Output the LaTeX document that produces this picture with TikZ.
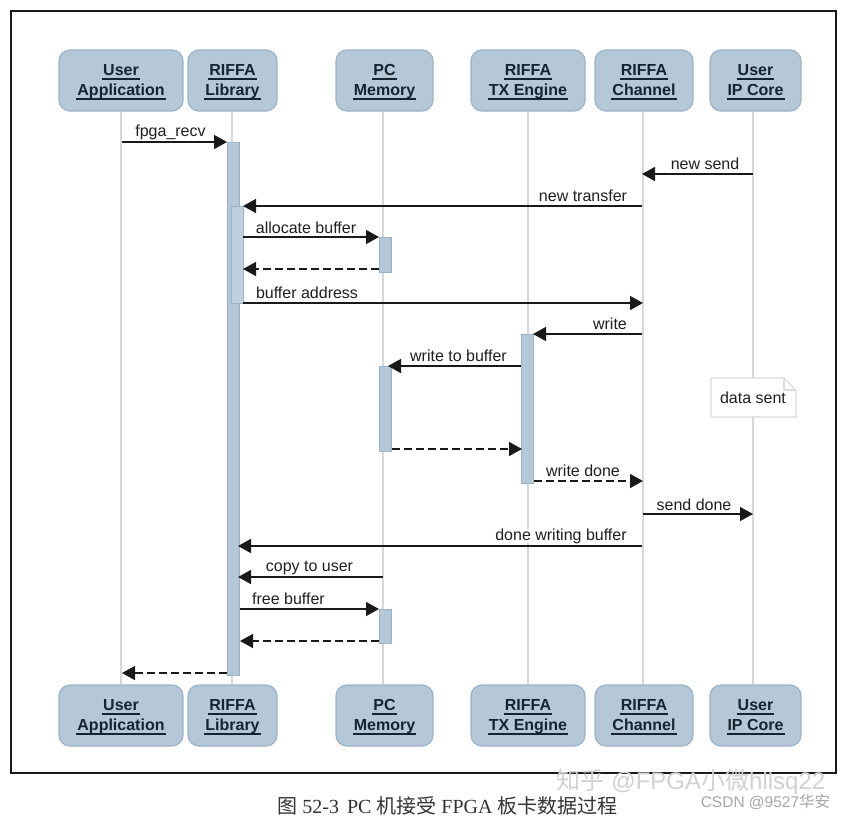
\documentclass[tikz,border=0pt]{standalone}
\usepackage{fontspec}
\setmainfont{Liberation Sans}
\newfontfamily\serifcap{Liberation Serif}
\newfontfamily\cjk{Noto Sans CJK SC}
\usetikzlibrary{arrows.meta}
\definecolor{boxfill}{HTML}{B4C8D8}
\definecolor{boxline}{HTML}{9DB2C6}
\definecolor{titleink}{HTML}{16242F}
\definecolor{lifeink}{HTML}{D6D8DA}
\definecolor{noteink}{HTML}{DADDDD}
\newcommand{\ulbar}[1]{\vtop{\hbox{\kern1pt\rule{0pt}{13.5pt}\smash{#1}\kern1pt}\kern3pt\hrule height 1.5pt}}
\tikzset{
  party/.style={draw=boxline,line width=1.2pt,fill=boxfill,rounded corners=11pt,minimum height=61pt,inner sep=0pt,
    text=titleink,align=center,font=\fontsize{16}{20}\selectfont\bfseries},
  actbar/.style={draw=boxline,line width=.8pt,fill=boxfill,minimum width=12pt,inner sep=0pt},
  lifeline/.style={draw=lifeink,line width=1.2pt},
  msg/.style={draw=black!90,line width=1.5pt,-{Triangle[length=13pt,width=14pt]}},
  reply/.style={msg,dash pattern=on 8pt off 4pt},
  msglabel/.style={inner sep=0pt,text=black!88,font=\fontsize{16}{18}\selectfont}
}
\begin{document}
\begin{tikzpicture}[x=1pt,y=-1pt]
  \useasboundingbox (0,0) rectangle (846,820);
  \fill[white] (0,0) rectangle (846,820);
  \draw[line width=2pt,draw=black!90] (11,11) rectangle (836,773);

  \node[party,minimum width=124pt] (userTop) at (121,80.5) {\ulbar{User}\\\ulbar{Application}};
  \node[party,minimum width=89pt] (libTop) at (232.5,80.5) {\ulbar{RIFFA}\\\ulbar{Library}};
  \node[party,minimum width=97pt] (memTop) at (384.5,80.5) {\ulbar{PC}\\\ulbar{Memory}};
  \node[party,minimum width=114pt] (txTop) at (528,80.5) {\ulbar{RIFFA}\\\ulbar{TX Engine}};
  \node[party,minimum width=98pt] (chanTop) at (644,80.5) {\ulbar{RIFFA}\\\ulbar{Channel}};
  \node[party,minimum width=91pt] (coreTop) at (755.5,80.5) {\ulbar{User}\\\ulbar{IP Core}};
  \node[party,minimum width=124pt] (userBot) at (121,715.5) {\ulbar{User}\\\ulbar{Application}};
  \node[party,minimum width=89pt] (libBot) at (232.5,715.5) {\ulbar{RIFFA}\\\ulbar{Library}};
  \node[party,minimum width=97pt] (memBot) at (384.5,715.5) {\ulbar{PC}\\\ulbar{Memory}};
  \node[party,minimum width=114pt] (txBot) at (528,715.5) {\ulbar{RIFFA}\\\ulbar{TX Engine}};
  \node[party,minimum width=98pt] (chanBot) at (644,715.5) {\ulbar{RIFFA}\\\ulbar{Channel}};
  \node[party,minimum width=91pt] (coreBot) at (755.5,715.5) {\ulbar{User}\\\ulbar{IP Core}};

  \begin{scope}[lifeline]
    \draw (userTop.south -| 121,0) to (userBot.north -| 121,0);
    \draw (libTop.south -| 232,0) to (libBot.north -| 232,0);
    \draw (memTop.south -| 383,0) to (memBot.north -| 383,0);
    \draw (txTop.south) to (txBot.north);
    \draw (chanTop.south -| 643,0) to (chanBot.north -| 643,0);
    \draw (coreTop.south -| 753,0) to (coreBot.north -| 753,0);
  \end{scope}

  \node[actbar,minimum height=533pt] (libBar) at (233.5,408.5) {};
  \node[actbar,minimum height=97pt,fill=boxfill!85!white] (libInner) at (237,254.5) {};
  \node[actbar,minimum height=35pt] (memBarA) at (385.5,254.5) {};
  \node[actbar,minimum height=149pt] (txBar) at (527.5,408.5) {};
  \node[actbar,minimum height=85pt] (memBarB) at (385.5,408.5) {};
  \node[actbar,minimum height=34pt] (memBarC) at (385.5,626) {};

  \draw[draw=noteink,line width=1.2pt,fill=white]
    (711,378) coordinate (noteNW) -- (784,378) coordinate (noteFold) -- (796,390) coordinate (noteEar)
    -- (796,417) -- (711,417) -- cycle;
  \draw[draw=noteink,line width=1.2pt] (noteFold) -- (784,390) -- (noteEar);
  \node[msglabel] (dataSent) at (753,397.5) {data sent};

  \draw
    (122,142) coordinate (recvA)
    (227,142) coordinate (recvB)
    (753,174) coordinate (sendA)
    (642,174) coordinate (sendB)
    (642,206) coordinate (transA)
    (243,206) coordinate (transB)
    (243,237) coordinate (allocA)
    (379,237) coordinate (allocB)
    (379,269) coordinate (allocC)
    (243,269) coordinate (allocD)
    (243,303) coordinate (addrA)
    (643,303) coordinate (addrB)
    (642,334) coordinate (writeA)
    (533,334) coordinate (writeB)
    (521,366) coordinate (bufA)
    (388,366) coordinate (bufB)
    (392,449) coordinate (bufC)
    (522,449) coordinate (bufD)
    (534,481) coordinate (doneA)
    (643,481) coordinate (doneB)
    (643,514) coordinate (sentA)
    (753,514) coordinate (sentB)
    (642,546) coordinate (finA)
    (238,546) coordinate (finB)
    (383,577) coordinate (copyA)
    (238,577) coordinate (copyB)
    (240,609) coordinate (freeA)
    (379,609) coordinate (freeB)
    (379,641) coordinate (freeC)
    (240,641) coordinate (freeD)
    (227,673) coordinate (backA)
    (122,673) coordinate (backB);

  \node[msglabel,fill=white] (finText) at (561,536) {done writing buffer};
  \begin{scope}[msg]
    \draw (recvA) to (recvB);
    \draw (sendA) to (sendB);
    \draw (transA) to (transB);
    \draw (allocA) to (allocB);
    \draw (addrA) to (addrB);
    \draw (writeA) to (writeB);
    \draw (bufA) to (bufB);
    \draw (sentA) to (sentB);
    \draw (finA) to (finB);
    \draw (copyA) to (copyB);
    \draw (freeA) to (freeB);
  \end{scope}
  \begin{scope}[reply]
    \draw (allocC) to (allocD);
    \draw (bufC) to (bufD);
    \draw (doneA) to (doneB);
    \draw (freeC) to (freeD);
    \draw (backA) to (backB);
  \end{scope}

  \node[msglabel] (recvText) at (170.5,132) {fpga\_recv};
  \node[msglabel] (sendText) at (705,164) {new send};
  \node[msglabel] (transText) at (583,196) {new transfer};
  \node[msglabel] (allocText) at (306,227.5) {allocate buffer};
  \node[msglabel] (addrText) at (307,292.5) {buffer address};
  \node[msglabel] (writeText) at (610,324) {write};
  \node[msglabel] (bufText) at (458.5,356) {write to buffer};
  \node[msglabel] (doneText) at (583,470.5) {write done};
  \node[msglabel] (sentText) at (694,504.5) {send done};
  \node[msglabel] (copyText) at (309.5,567.5) {copy to user};
  \node[msglabel] (freeText) at (288.5,599) {free buffer};

  \node[inner sep=0pt,text=black!80,font=\fontsize{20}{22}\selectfont\serifcap] (captionText) at (447.5,806)
    {{\cjk 图} 52-3\hspace{8pt}PC {\cjk 机接受} FPGA {\cjk 板卡数据过程}};
  \node[inner sep=0pt,text=black!18,font=\fontsize{24}{26}\selectfont] (zhihuMark) at (691,782)
    {{\cjk 知乎} @FPGA{\cjk 小微}hllsq22};
  \node[inner sep=0pt,text=black!35,font=\fontsize{15.5}{17}\selectfont] (csdnMark) at (765.5,802)
    {CSDN @9527{\cjk 华安}};
\end{tikzpicture}
\end{document}
